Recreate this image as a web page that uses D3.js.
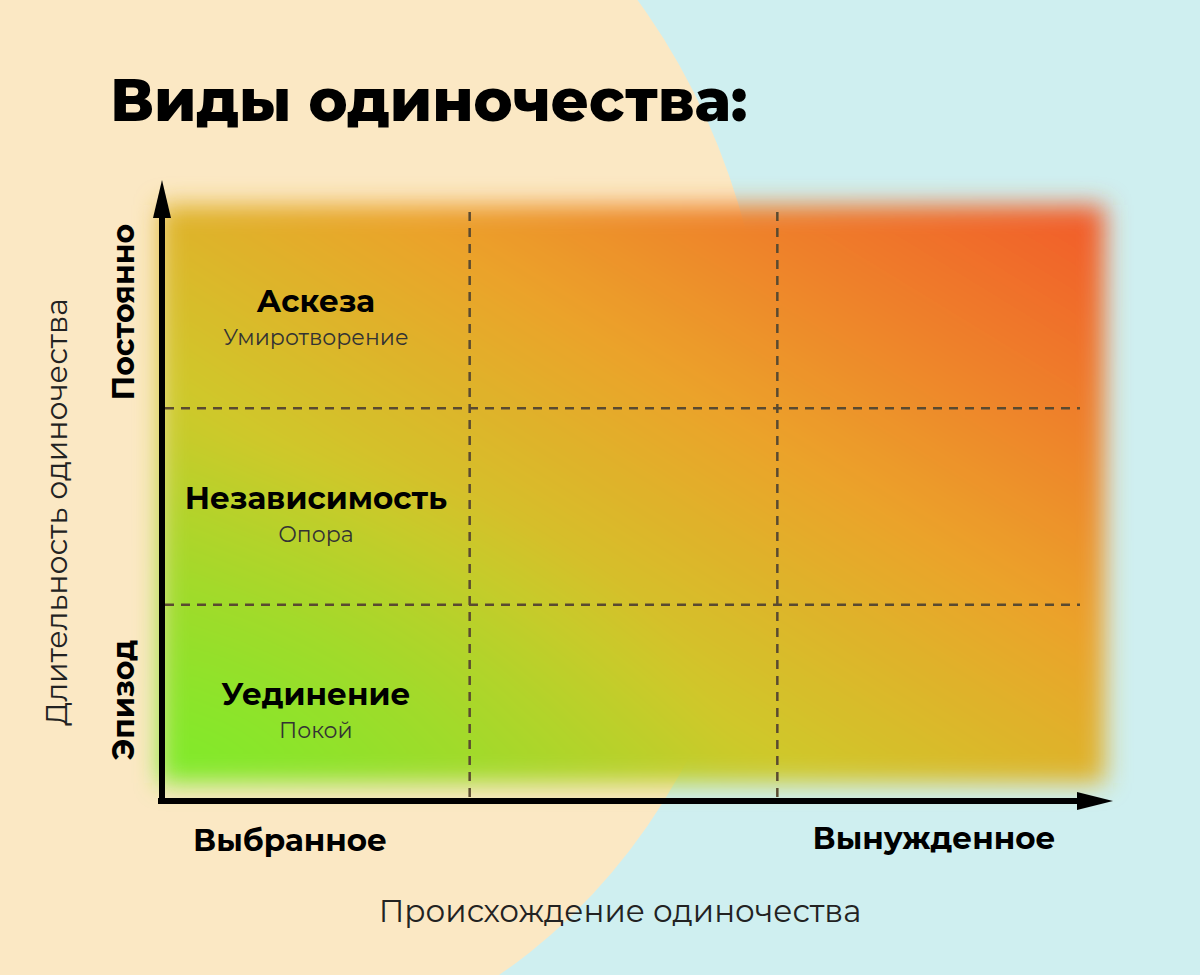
<!DOCTYPE html><html><head><meta charset="utf-8">
<script src="https://cdn.jsdelivr.net/npm/d3@7"></script>
<style>body{margin:0}svg{display:block}</style></head><body>
<script>
const xCategories=["Выбранное","","Вынужденное"];
const yCategories=["Эпизод","","Постоянно"];
const cells=[{col:0,row:2,title:"Аскеза",sub:"Умиротворение"},{col:0,row:1,title:"Независимость",sub:"Опора"},{col:0,row:0,title:"Уединение",sub:"Покой"}];
const W=1200,H=975;
const svg=d3.select("body").append("svg").attr("width",W).attr("height",H).style("font-family","Montserrat, 'Noto Sans', sans-serif");
const defs=svg.append("defs");
defs.append("filter").attr("id","blur").attr("x","-10%").attr("y","-10%").attr("width","120%").attr("height","120%").append("feGaussianBlur").attr("stdDeviation",12);
const lg=defs.append("linearGradient").attr("id","lg").attr("x1","0").attr("y1","1").attr("x2","1").attr("y2","0");
[["0%","#86e62a"],["35%","#cfc82a"],["62%","#eba22c"],["100%","#f25a2c"]].forEach(d=>lg.append("stop").attr("offset",d[0]).attr("stop-color",d[1]));
const rg=defs.append("radialGradient").attr("id","rg").attr("cx","0").attr("cy","1").attr("r","0.6");
rg.append("stop").attr("offset","0%").attr("stop-color","#7eec2a").attr("stop-opacity",0.9);
rg.append("stop").attr("offset","100%").attr("stop-color","#9ed82a").attr("stop-opacity",0);
svg.append("rect").attr("width",W).attr("height",H).attr("fill","#cfeff0");
svg.append("ellipse").attr("cx",230).attr("cy",420).attr("rx",540).attr("ry",640).attr("fill","#fbe8c4");
const x=d3.scaleBand().domain([0,1,2]).range([162,1085]);
const y=d3.scaleBand().domain([0,1,2]).range([801,212]);
const g=svg.append("g").attr("filter","url(#blur)");
g.append("rect").attr("x",160).attr("y",205).attr("width",945).attr("height",578).attr("fill","url(#lg)");
g.append("rect").attr("x",160).attr("y",205).attr("width",945).attr("height",578).attr("fill","url(#rg)");
[1,2].forEach(i=>{
 svg.append("line").attr("x1",x(i)).attr("x2",x(i)).attr("y1",212).attr("y2",800).attr("stroke","#5a4a30").attr("stroke-width",2.5).attr("stroke-dasharray","9,7");
 svg.append("line").attr("x1",165).attr("x2",1080).attr("y1",y(i-1)).attr("y2",y(i-1)).attr("stroke","#5a4a30").attr("stroke-width",2.5).attr("stroke-dasharray","9,7");
});
svg.append("line").attr("x1",162).attr("x2",162).attr("y1",803).attr("y2",205).attr("stroke","#000").attr("stroke-width",6);
svg.append("path").attr("d","M162,180 L153,218 L171,218 Z");
svg.append("line").attr("x1",158).attr("x2",1085).attr("y1",801).attr("y2",801).attr("stroke","#000").attr("stroke-width",6);
svg.append("path").attr("d","M1113,801 L1077,792 L1077,810 Z");
svg.append("text").attr("x",110).attr("y",121).attr("font-size",59).attr("font-weight",800).text("Виды одиночества:");
cells.forEach(c=>{
 const cx=x(c.col)+x.bandwidth()/2, cy=y(c.row)+y.bandwidth()/2;
 svg.append("text").attr("x",cx).attr("y",cy+2).attr("text-anchor","middle").attr("font-size",31).attr("font-weight",700).text(c.title);
 svg.append("text").attr("x",cx).attr("y",cy+35).attr("text-anchor","middle").attr("font-size",22).attr("fill","#333").text(c.sub);
});
svg.append("text").attr("x",290).attr("y",851).attr("text-anchor","middle").attr("font-size",31).attr("font-weight",700).text(xCategories[0]);
svg.append("text").attr("x",934).attr("y",849).attr("text-anchor","middle").attr("font-size",31).attr("font-weight",700).text(xCategories[2]);
svg.append("text").attr("x",620).attr("y",922).attr("text-anchor","middle").attr("font-size",31).attr("fill","#222").text("Происхождение одиночества");
[[0,700],[2,312]].forEach(([i,cy])=>svg.append("text").attr("transform",`translate(134,${cy}) rotate(-90)`).attr("text-anchor","middle").attr("font-size",30).attr("font-weight",700).text(yCategories[i]));
svg.append("text").attr("transform","translate(67,512) rotate(-90)").attr("text-anchor","middle").attr("font-size",30).attr("fill","#222").text("Длительность одиночества");
</script></body></html>
